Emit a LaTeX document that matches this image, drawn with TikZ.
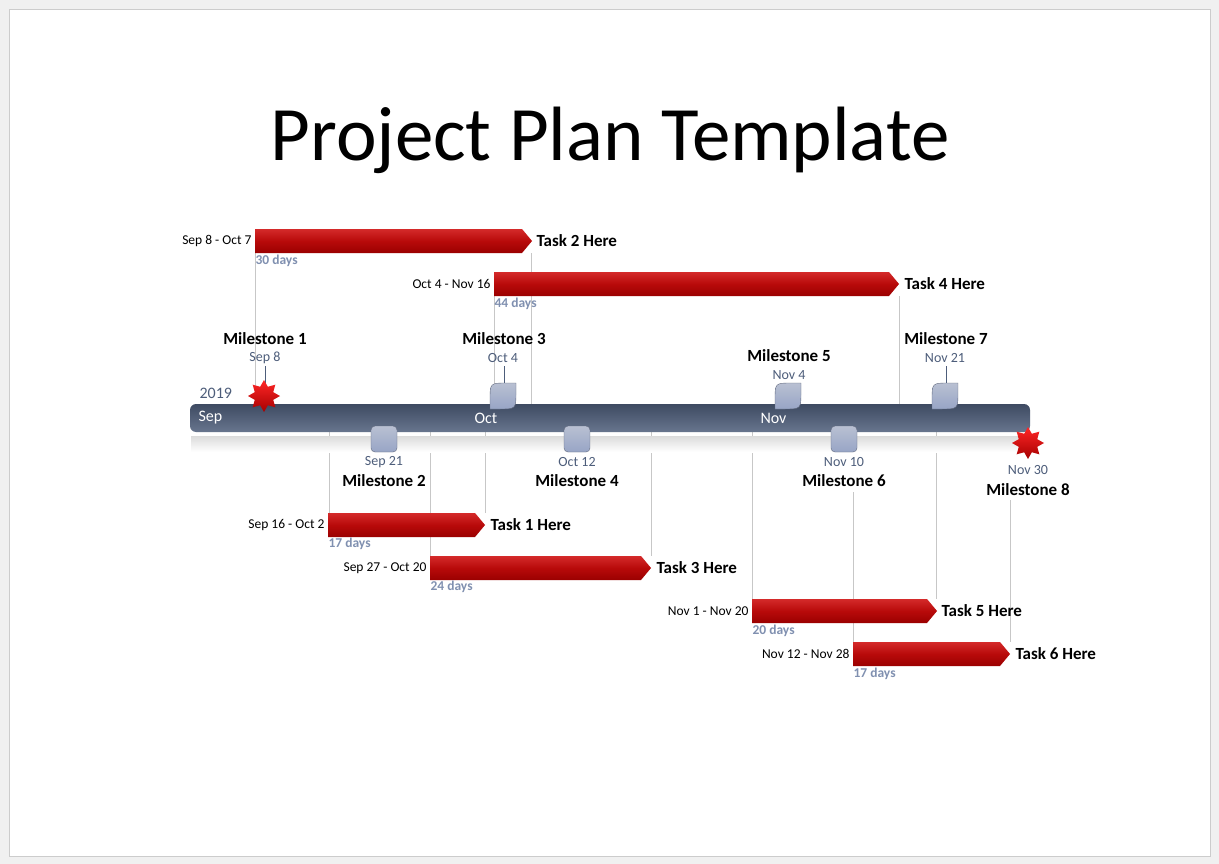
\documentclass[tikz,border=0pt]{standalone}
\usepackage{fontspec}
\setmainfont{Carlito}
\usetikzlibrary{shapes.geometric}
\definecolor{datec}{HTML}{4D5D7A}
\definecolor{dayc}{HTML}{8090B0}
\definecolor{msc}{HTML}{8A96B4}
\definecolor{redtop}{HTML}{D42A2A}
\definecolor{redmid}{HTML}{B80A0A}
\definecolor{redbot}{HTML}{9A0000}
\tikzset{
 barfill/.style={top color=redtop, bottom color=redbot, middle color=redmid},
 guide/.style={draw=black!22, line width=0.6pt},
 rng/.style={font=\fontsize{13.5}{13.5}\selectfont, anchor=east},
 days/.style={font=\bfseries\fontsize{13.5}{13.5}\selectfont, text=dayc, anchor=west},
 tlab/.style={font=\bfseries\fontsize{17}{17}\selectfont, anchor=west},
 mlab/.style={font=\bfseries\fontsize{17}{17}\selectfont},
 mdate/.style={font=\fontsize{14}{14}\selectfont, text=datec},
 sq/.style={rounded corners=4pt, minimum size=26pt, inner sep=0pt, top color=msc!60, bottom color=msc!110!black, draw=msc!70!black, line width=0.4pt},
 starm/.style={star, star points=8, star point ratio=1.6, minimum size=32pt, inner sep=0pt, top color=red!85, bottom color=red!65!black, draw=none},
 month/.style={font=\fontsize{16}{16}\selectfont, text=white, anchor=west},
}
% #1 name, #2 x start, #3 x end, #4 y centre
\newcommand\taskbar[4]{\coordinate (#1) at (#2,#4);
 \shade[barfill] (#2,#4-12) -- (#3-10,#4-12) -- (#3,#4) -- (#3-10,#4+12) -- (#2,#4+12) -- cycle;}
\newcommand\leaf[2]{\path[top color=msc!60, bottom color=msc!110!black, draw=msc!70!black, line width=0.4pt]
 (#1-13,#2+13) -- (#1-13,#2+4) .. controls (#1-13,#2-13) .. (#1+4,#2-13) -- (#1+13,#2-13) -- (#1+13,#2-4) .. controls (#1+13,#2+13) .. (#1-4,#2+13) -- cycle;}
\begin{document}
\begin{tikzpicture}[x=1pt,y=-1pt]
\fill[black!6] (0,0) rectangle (1219,864);
\fill[white,draw=black!20] (9,9) rectangle (1210,856);
\useasboundingbox (0,0) rectangle (1219,864);
\node[font=\fontsize{77}{77}\selectfont] (title) at (610,140) {Project Plan Template};
% guides
\draw[guide] (255,253) -- (255,404); \draw[guide] (531,253) -- (531,404);
\draw[guide] (494,296) -- (494,404); \draw[guide] (899,296) -- (899,404);
\draw[guide] (329,432) -- (329,513); \draw[guide] (485,432) -- (485,513);
\draw[guide] (430,432) -- (430,556); \draw[guide] (651,432) -- (651,556);
\draw[guide] (752,432) -- (752,599); \draw[guide] (936,432) -- (936,599);
\draw[guide] (853,492) -- (853,642); \draw[guide] (1010,500) -- (1010,642);
% timeline
\shade[top color=black!14, bottom color=white] (191,436) rectangle (1030,452);
\shade[rounded corners=6pt, top color=datec!80!black, bottom color=datec!85!white] (190,404) rectangle (1030,432);
\node[font=\fontsize{16}{16}\selectfont, text=datec, anchor=west] (yr) at (196,393) {2019};
\node[month] (sep) at (195,418) {Sep};
\node[month] (oct) at (471,418) {Oct};
\node[month] (nov) at (757,418) {Nov};
% tasks
\taskbar{t2}{255}{532}{241}
\node[rng] at (t2) {Sep 8 - Oct 7};
\node[days] at (252,261) {30 days};
\node[tlab] at (533,241) {Task 2 Here};
\taskbar{t4}{494}{899}{284}
\node[rng] at (t4) {Oct 4 - Nov 16};
\node[days] at (491,304) {44 days};
\node[tlab] at (901,284) {Task 4 Here};
\taskbar{t1}{328}{485}{525}
\node[rng] at (t1) {Sep 16 - Oct 2};
\node[days] at (325,544) {17 days};
\node[tlab] at (487,525) {Task 1 Here};
\taskbar{t3}{430}{651}{568}
\node[rng] at (t3) {Sep 27 - Oct 20};
\node[days] at (427,587) {24 days};
\node[tlab] at (653,568) {Task 3 Here};
\taskbar{t5}{752}{937}{611}
\node[rng] at (t5) {Nov 1 - Nov 20};
\node[days] at (749,631) {20 days};
\node[tlab] at (938,611) {Task 5 Here};
\taskbar{t6}{853}{1010}{654}
\node[rng] at (t6) {Nov 12 - Nov 28};
\node[days] at (850,674) {17 days};
\node[tlab] at (1012,654) {Task 6 Here};
% milestones above
\draw[datec] (265,366) -- (265,386);
\node[starm] (m1) at (264,396) {};
\node[mdate] at (265,358) {Sep 8};
\node[mlab] at (265,339) {Milestone 1};
\draw[datec] (504,366) -- (504,384);
\leaf{503}{396}
\node[mdate] at (503,358) {Oct 4};
\node[mlab] at (504,339) {Milestone 3};
\leaf{788}{396}
\node[mdate] at (789,375) {Nov 4};
\node[mlab] at (789,356) {Milestone 5};
\draw[datec] (946,366) -- (946,384);
\leaf{945}{396}
\node[mdate] at (945,358) {Nov 21};
\node[mlab] at (946,339) {Milestone 7};
% milestones below
\node[sq] (m2) at (384,439) {};
\node[mdate] at (384,462) {Sep 21};
\node[mlab] at (384,481) {Milestone 2};
\node[sq] (m4) at (577,439) {};
\node[mdate] at (577,462) {Oct 12};
\node[mlab] at (577,481) {Milestone 4};
\node[sq] (m6) at (844,439) {};
\node[mdate] at (844,462) {Nov 10};
\node[mlab] at (844,481) {Milestone 6};
\node[starm] (m8) at (1028,443) {};
\node[mdate] at (1028,470) {Nov 30};
\node[mlab] at (1028,490) {Milestone 8};
\end{tikzpicture}
\end{document}
